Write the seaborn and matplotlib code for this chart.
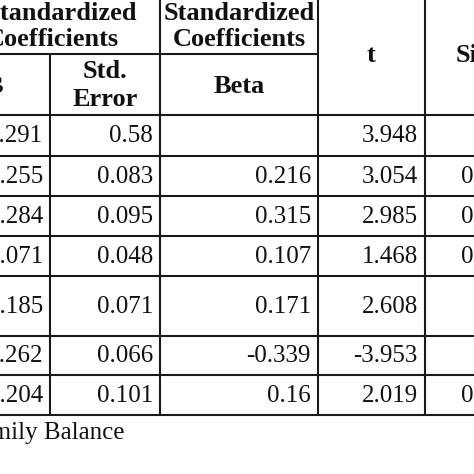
import matplotlib
matplotlib.use("Agg")
import matplotlib.pyplot as plt
import seaborn as sns

sns.set_theme(style="white")
plt.rcParams['font.family'] = ['Liberation Serif', 'DejaVu Serif']

b_vals = ["2.291", "0.255", "0.284", "0.071", "0.185", "-0.262", "0.204"]
se_vals = ["0.58", "0.083", "0.095", "0.048", "0.071", "0.066", "0.101"]
beta_vals = ["", "0.216", "0.315", "0.107", "0.171", "-0.339", "0.16"]
t_vals = ["3.948", "3.054", "2.985", "1.468", "2.608", "-3.953", "2.019"]
sig_vals = ["", "0.003", "0.003", "0.144", "", "", "0.045"]
footnote = "a. Dependent Variable: Family Balance"

row_edges = [115, 156, 196, 236, 276, 336, 375, 415]

fig = plt.figure(figsize=(4.74, 4.74), dpi=100)
ax = fig.add_axes([0, 0, 1, 1])
ax.set_xlim(0, 474); ax.set_ylim(474, 0); ax.axis("off")
lc = "#1a1a1a"; lw = 1.5
fs = 18

for y in row_edges:
    ax.hlines(y, 0, 474, color=lc, lw=lw)
ax.hlines(54, 0, 318, color=lc, lw=lw)
ax.vlines(160, 0, 415, color=lc, lw=lw)
ax.vlines(318, 0, 415, color=lc, lw=lw)
ax.vlines(425, 0, 415, color=lc, lw=lw)
ax.vlines(50, 54, 415, color=lc, lw=lw)

hk = dict(fontsize=19, fontweight="bold", ha="center", va="center", color="#111")
ax.text(47, 13, "Unstandardized", **hk)
ax.text(52, 39, "Coefficients", **hk)
ax.text(239, 13, "Standardized", **hk)
ax.text(239, 39, "Coefficients", **hk)
ax.text(105, 71, "Std.", **hk)
ax.text(105, 99, "Error", **hk)
ax.text(239, 86, "Beta", **hk)
ax.text(-6, 86, "B", **hk)
ax.text(371, 55, "t", **hk)
ax.text(477, 55, "Sig.", **hk)

tk = dict(fontsize=fs, va="center", color="#111")
for i in range(len(b_vals)):
    yc = (row_edges[i] + row_edges[i + 1]) / 2 + 1
    ax.text(43, yc, b_vals[i], ha="right", **tk)
    ax.text(153, yc, se_vals[i], ha="right", **tk)
    ax.text(311, yc, beta_vals[i], ha="right", **tk)
    ax.text(418, yc, t_vals[i], ha="right", **tk)
    ax.text(461, yc, sig_vals[i], ha="left", **tk)

ax.text(125, 433, footnote, ha="right", **tk)

fig.savefig("out.png", dpi=100)
